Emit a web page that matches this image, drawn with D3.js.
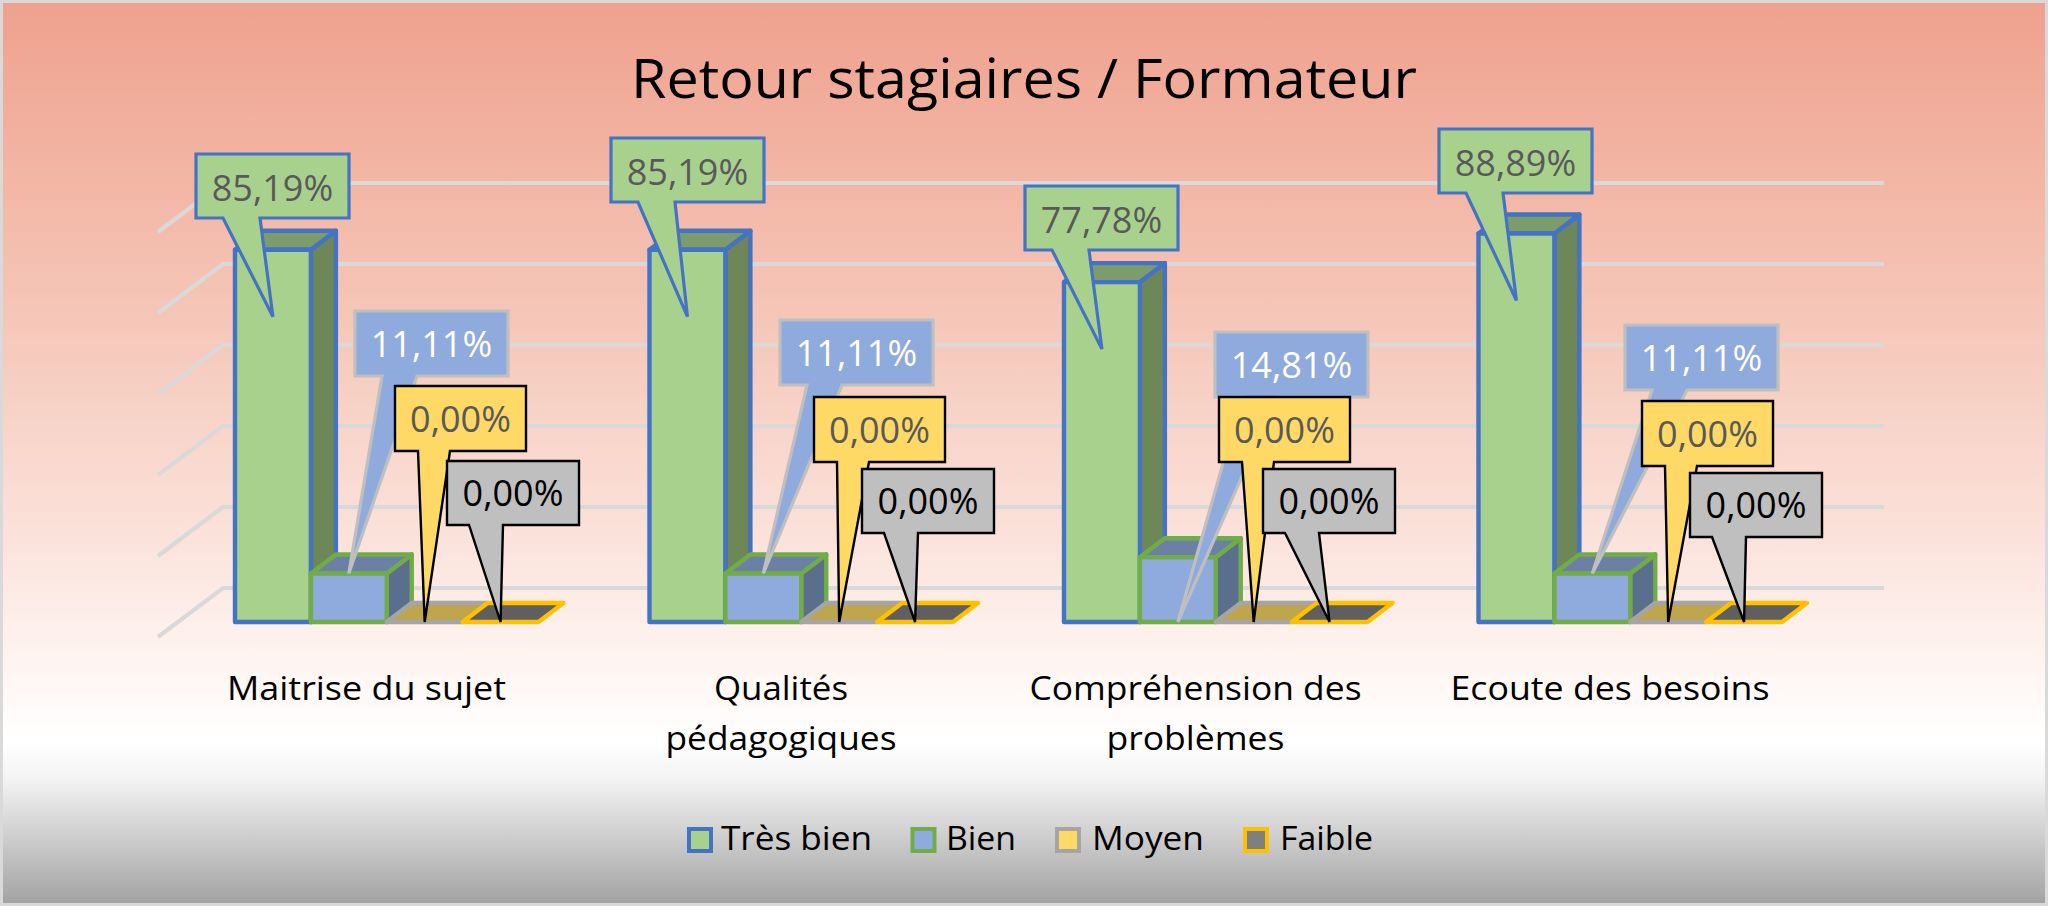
<!DOCTYPE html>
<html lang="fr">
<head>
<meta charset="utf-8">
<script src="https://cdn.jsdelivr.net/npm/d3@7"></script>
<style>
html,body{margin:0;padding:0;background:#fff}
svg{display:block}
text{font-family:"Open Sans",sans-serif}
</style>
</head>
<body>
<svg id="c" width="2048" height="906"></svg>
<script>
// ---- data ----
const chartTitle = "Retour stagiaires / Formateur";
const categories = ["Maitrise du sujet", "Qualités pédagogiques", "Compréhension des problèmes", "Ecoute des besoins"];
const categoryLines = [["Maitrise du sujet"], ["Qualités", "pédagogiques"], ["Compréhension des", "problèmes"], ["Ecoute des besoins"]];
const seriesNames = ["Très bien", "Bien", "Moyen", "Faible"];
const tresBien = [85.19, 85.19, 77.78, 88.89];
const bien = [11.11, 11.11, 14.81, 11.11];
const moyen = [0, 0, 0, 0];
const faible = [0, 0, 0, 0];
const seriesValues = [tresBien, bien, moyen, faible];
const gridTicks = [0, 20, 40, 60, 80, 100];

// ---- layout and styles (separate from the data) ----
const W = 2048, H = 906;
const styles = [
  {fill:"#A9D18E", stroke:"#4472C4", side:"#6D8759", top:"#7C9C6B", lfill:"#A9D18E", lstroke:"#4472C4", ltext:"#595959", lw:3.2, ty:15},
  {fill:"#8FAADC", stroke:"#70AD47", side:"#5A6E8E", top:"#6C80A6", lfill:"#8FAADC", lstroke:"#BFBFBF", ltext:"#FFFFFF", lw:3.2, ty:13},
  {fill:"#FFD966", stroke:"#A5A5A5", side:"#A08A40", top:"#BFA54C", lfill:"#FFD966", lstroke:"#000000", ltext:"#595959", lw:2.4, ty:13},
  {fill:"#7F7F7F", stroke:"#FFC000", side:"#4C4C4C", top:"#5F5F5F", lfill:"#BFBFBF", lstroke:"#000000", ltext:"#000000", lw:2.4, ty:13}
];
const boxOrigins = [
  [[196,154],[611,138],[1025,186],[1439,129]],
  [[355,311],[780,320],[1215,332],[1625,325]],
  [[395,386],[814,397],[1219,397],[1642,401]],
  [[447,461],[862,469],[1263,469],[1690,473]]
];
const boxSizes = [[153,64],[153,65],[131,65],[132,64]];
const tailBases = [[27,64],[27,62],[23,55],[22,56]];
const catWidths = [[279],[134,231],[332,178],[319]];
const legendBoxX = [687, 910.5, 1055, 1243];
const legendTextX = [721, 946, 1092, 1280];
const legendTextW = [151, 70, 112, 93];
const depth = {x:25, y:19};

// ---- scales ----
const x0 = d3.scaleBand().domain(categories).range([235, 235 + 414.5 * categories.length]);
const x1 = d3.scaleBand().domain(seriesNames).range([0, 303.5]);
const yFront = d3.scaleLinear().domain([0, 100]).range([622, 185]);
const yWall = d3.scaleLinear().domain([0, 100]).range([588, 183]);

const svg = d3.select("#c");
const defs = svg.append("defs");
const g = defs.append("linearGradient").attr("id","bg").attr("x1",0).attr("y1",0).attr("x2",0).attr("y2",1);
[[0,"#EFA18E"],[0.2,"#F3B6A5"],[0.4,"#F6CCBF"],[0.6,"#FBE3DC"],[0.72,"#FEF3EF"],[0.82,"#FFFFFF"],[0.861,"#F4F4F4"],[1,"#A3A3A3"]]
  .forEach(s => g.append("stop").attr("offset",s[0]).attr("stop-color",s[1]));

svg.append("rect").attr("width",W).attr("height",H).attr("fill","#D9D9D9");
svg.append("rect").attr("x",3).attr("y",3).attr("width",W-6).attr("height",H-6).attr("fill","url(#bg)");

svg.append("text").attr("x",1024).attr("y",98).attr("text-anchor","middle")
  .attr("font-size",55).attr("fill","#000").attr("textLength",786).attr("lengthAdjust","spacingAndGlyphs").text(chartTitle);

// gridlines on wall and side wall
const grid = svg.append("g").attr("fill","none").attr("stroke","#D9D9D9").attr("stroke-width",4.2);
grid.selectAll("path").data(gridTicks).join("path")
  .attr("d", t => `M158,${yWall(t)+49} L223,${yWall(t)} L1884,${yWall(t)}`);

// bars
const barData = [];
categories.forEach((c,ci) => seriesNames.forEach((s,si) => barData.push({c,ci,s,si,v:seriesValues[si][ci]})));
const bars = svg.append("g").selectAll("g").data(barData).join("g")
  .attr("stroke-linejoin","round").attr("stroke-width",4.4);
bars.each(function(d){
  const sel = d3.select(this), st = styles[d.si];
  const x = x0(d.c) + x1(d.s), w = x1.bandwidth(), y = yFront(d.v), b = yFront(0);
  sel.attr("stroke", st.stroke);
  if (d.v > 0) {
    sel.append("path").attr("fill",st.side)
      .attr("d",`M${x+w},${y} L${x+w+depth.x},${y-depth.y} L${x+w+depth.x},${b-depth.y} L${x+w},${b} Z`);
  }
  sel.append("path").attr("fill",st.top)
    .attr("d",`M${x},${y} L${x+depth.x},${y-depth.y} L${x+w+depth.x},${y-depth.y} L${x+w},${y} Z`);
  if (d.v > 0) sel.append("rect").attr("x",x).attr("y",y).attr("width",w).attr("height",b-y).attr("fill",st.fill);
});

// callouts (blue, yellow, grey stack in series order)
const fmt = v => v.toFixed(2).replace(".", ",") + "%";
const callouts = svg.append("g").selectAll("g").data(barData).join("g");
callouts.each(function(d){
  const sel = d3.select(this), st = styles[d.si];
  const [bx,by] = boxOrigins[d.si][d.ci], [bw,bh] = boxSizes[d.si], [t0,t1] = tailBases[d.si];
  const tx = x0(d.c) + x1(d.s) + x1.bandwidth()/2;
  let ty = yFront(d.v);
  if (d.si === 0) ty += 67;
  if (d.si === 1 && d.v > 12) ty = yFront(0);
  const p = `M${bx},${by} H${bx+bw} V${by+bh} H${bx+t1} L${tx},${ty} L${bx+t0},${by+bh} H${bx} Z`;
  sel.append("path").attr("d",p).attr("fill",st.lfill).attr("stroke",st.lstroke)
    .attr("stroke-width",st.lw).attr("stroke-linejoin","miter");
  sel.append("text").attr("x",bx+bw/2).attr("y",by+bh/2+st.ty).attr("text-anchor","middle")
    .attr("font-size",36).attr("fill",st.ltext).text(fmt(d.v));
});

// category labels
const cats = svg.append("g");
categories.forEach((c,i) => categoryLines[i].forEach((line,j) => {
  cats.append("text").attr("x",x0(c)+131.5).attr("y",700+j*50).attr("text-anchor","middle")
    .attr("font-size",33.5).attr("fill","#000").attr("textLength",catWidths[i][j])
    .attr("lengthAdjust","spacingAndGlyphs").text(line);
}));

// legend
const legend = svg.append("g");
seriesNames.forEach((s,i) => {
  const st = styles[i];
  legend.append("rect").attr("x",legendBoxX[i]+2).attr("y",829).attr("width",22).attr("height",22)
    .attr("fill",st.fill).attr("stroke",st.stroke).attr("stroke-width",4);
  legend.append("text").attr("x",legendTextX[i]).attr("y",850).attr("font-size",33)
    .attr("fill","#000").attr("textLength",legendTextW[i]).attr("lengthAdjust","spacingAndGlyphs").text(s);
});
</script>
</body>
</html>
